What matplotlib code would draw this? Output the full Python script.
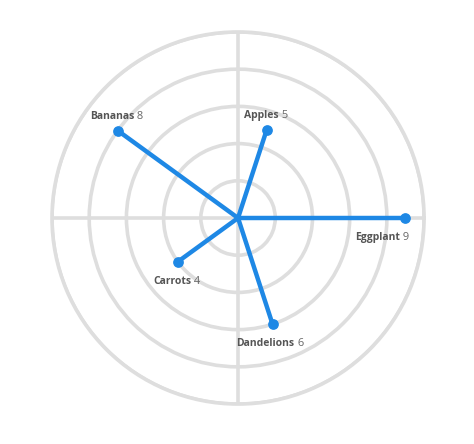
import numpy as np
import matplotlib
matplotlib.use("Agg")
import matplotlib.pyplot as plt

categories = ["Eggplant", "Apples", "Bananas", "Carrots", "Dandelions"]
values = [9, 5, 8, 4, 6]
angles_deg = [0, 72, 144, 216, 288]
rings = [2, 4, 6, 8, 10]

plt.rcParams['font.family'] = ['Open Sans', 'DejaVu Sans']
fig = plt.figure(figsize=(4.74, 4.44), dpi=100)
ax = fig.add_axes([0.1097, 0.09, 0.785, 0.838], projection='polar')
ax.set_ylim(0, 10)
ax.set_yticks(rings)
ax.set_yticklabels([])
ax.set_xticks(np.deg2rad([0, 90, 180, 270]))
ax.set_xticklabels([])
grid_c = '#dedede'
ax.grid(True, color=grid_c, linewidth=2.6)
ax.spines['polar'].set_color(grid_c)
ax.spines['polar'].set_linewidth(2.6)
ax.set_facecolor('none')

blue = '#1e88e5'
th = np.deg2rad(angles_deg)
for t, v in zip(th, values):
    ax.plot([t, t], [0, v], color=blue, linewidth=3.2, solid_capstyle='butt', zorder=3)
ax.scatter(th, values, s=45, color=blue, zorder=4)

# label offsets in points (dx, dy, ha)
offs = {"Eggplant": (2, -14, 'right'), "Apples": (-4, 10, 'center'),
        "Bananas": (-4, 10, 'center'), "Carrots": (-4, -14, 'center'),
        "Dandelions": (-5, -14, 'center')}
for name, t, v in zip(categories, th, values):
    dx, dy, ha = offs[name]
    if ha == 'right':
        dx -= 6
    tname = ax.annotate(name, xy=(t, v), xytext=(dx, dy), textcoords='offset points',
                        ha=ha, va='center', fontsize=7.5, fontweight='bold', color='#555555')
    ax.annotate(" " + str(v), xy=(1, 0.5), xycoords=tname, xytext=(0, 0),
                textcoords='offset points', ha='left', va='center',
                fontsize=8, color='#666666')

fig.savefig("out.png", dpi=100)
